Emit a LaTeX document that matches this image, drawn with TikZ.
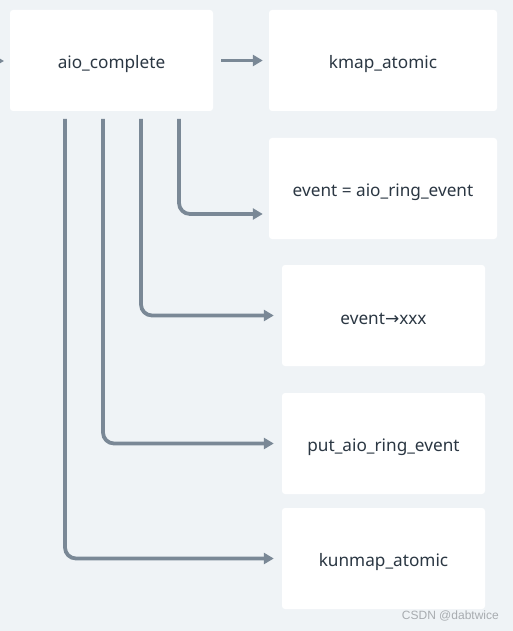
\documentclass[tikz,border=0pt]{standalone}
\usepackage{fontspec}
\setmainfont{Noto Sans}
\newfontfamily\wmfont{Liberation Sans}
\newfontfamily\symfont{DejaVu Sans}
\usetikzlibrary{arrows.meta}
\definecolor{bgc}{HTML}{EFF3F6}
\definecolor{linec}{HTML}{7A8896}
\definecolor{txtc}{HTML}{2B3743}
\definecolor{wmc}{HTML}{A8ACB0}
\tikzset{
  box/.style={fill=white, rounded corners=3pt, inner sep=0pt},
  lbl/.style={inner sep=0pt, text=txtc, font=\fontsize{17.2}{20}\selectfont, yshift=-3.5pt},
  conn/.style={draw=linec, line width=3.8pt, rounded corners=11pt, -{Triangle[length=10pt,width=11pt]}},
}
\begin{document}
\begin{tikzpicture}[x=1pt,y=-1pt]
\fill[bgc] (0,0) rectangle (513,631);
\useasboundingbox (0,0) rectangle (513,631);
\node[box, minimum width=203pt, minimum height=101pt, label={[lbl]center:aio\_complete}] (ac) at (111.5,60.5) {};
\node[box, minimum width=228pt, minimum height=101pt, label={[lbl]center:kmap\_atomic}] (km) at (383,60.5) {};
\node[box, minimum width=228pt, minimum height=101pt, label={[lbl]center:event = aio\_ring\_event}] (ev) at (383,188.5) {};
\node[box, minimum width=203pt, minimum height=101pt, label={[lbl]center:event{\symfont\fontsize{17}{20}\selectfont→}xxx}] (ex) at (383.5,315.5) {};
\node[box, minimum width=203pt, minimum height=101pt, label={[lbl]center:put\_aio\_ring\_event}] (put) at (383.5,443.5) {};
\node[box, minimum width=203pt, minimum height=101pt, label={[lbl]center:kunmap\_atomic}] (ku) at (383.5,558.5) {};
\coordinate (s0) at (-8,61);
\coordinate (s0e) at (4,61);
\draw[conn] (s0) -- (s0e);
\draw[conn] ([xshift=8pt]ac.east) -- ([xshift=-6pt]km.west);
\coordinate (v1) at (179,119);
\coordinate (v2) at (141,119);
\coordinate (v3) at (103,119);
\coordinate (v4) at (65,119);
\draw[conn] (v1) |- ([xshift=-6pt]ev.west |- 0,214);
\draw[conn] (v2) |- ([xshift=-8pt]ex.west);
\draw[conn] (v3) |- ([xshift=-8pt]put.west);
\draw[conn] (v4) |- ([xshift=-8pt]ku.west);
\node[anchor=south east, inner sep=0pt, text=wmc, font=\wmfont\fontsize{12}{14}\selectfont] (wm) at (499,621) {CSDN @dabtwice};
\end{tikzpicture}
\end{document}
